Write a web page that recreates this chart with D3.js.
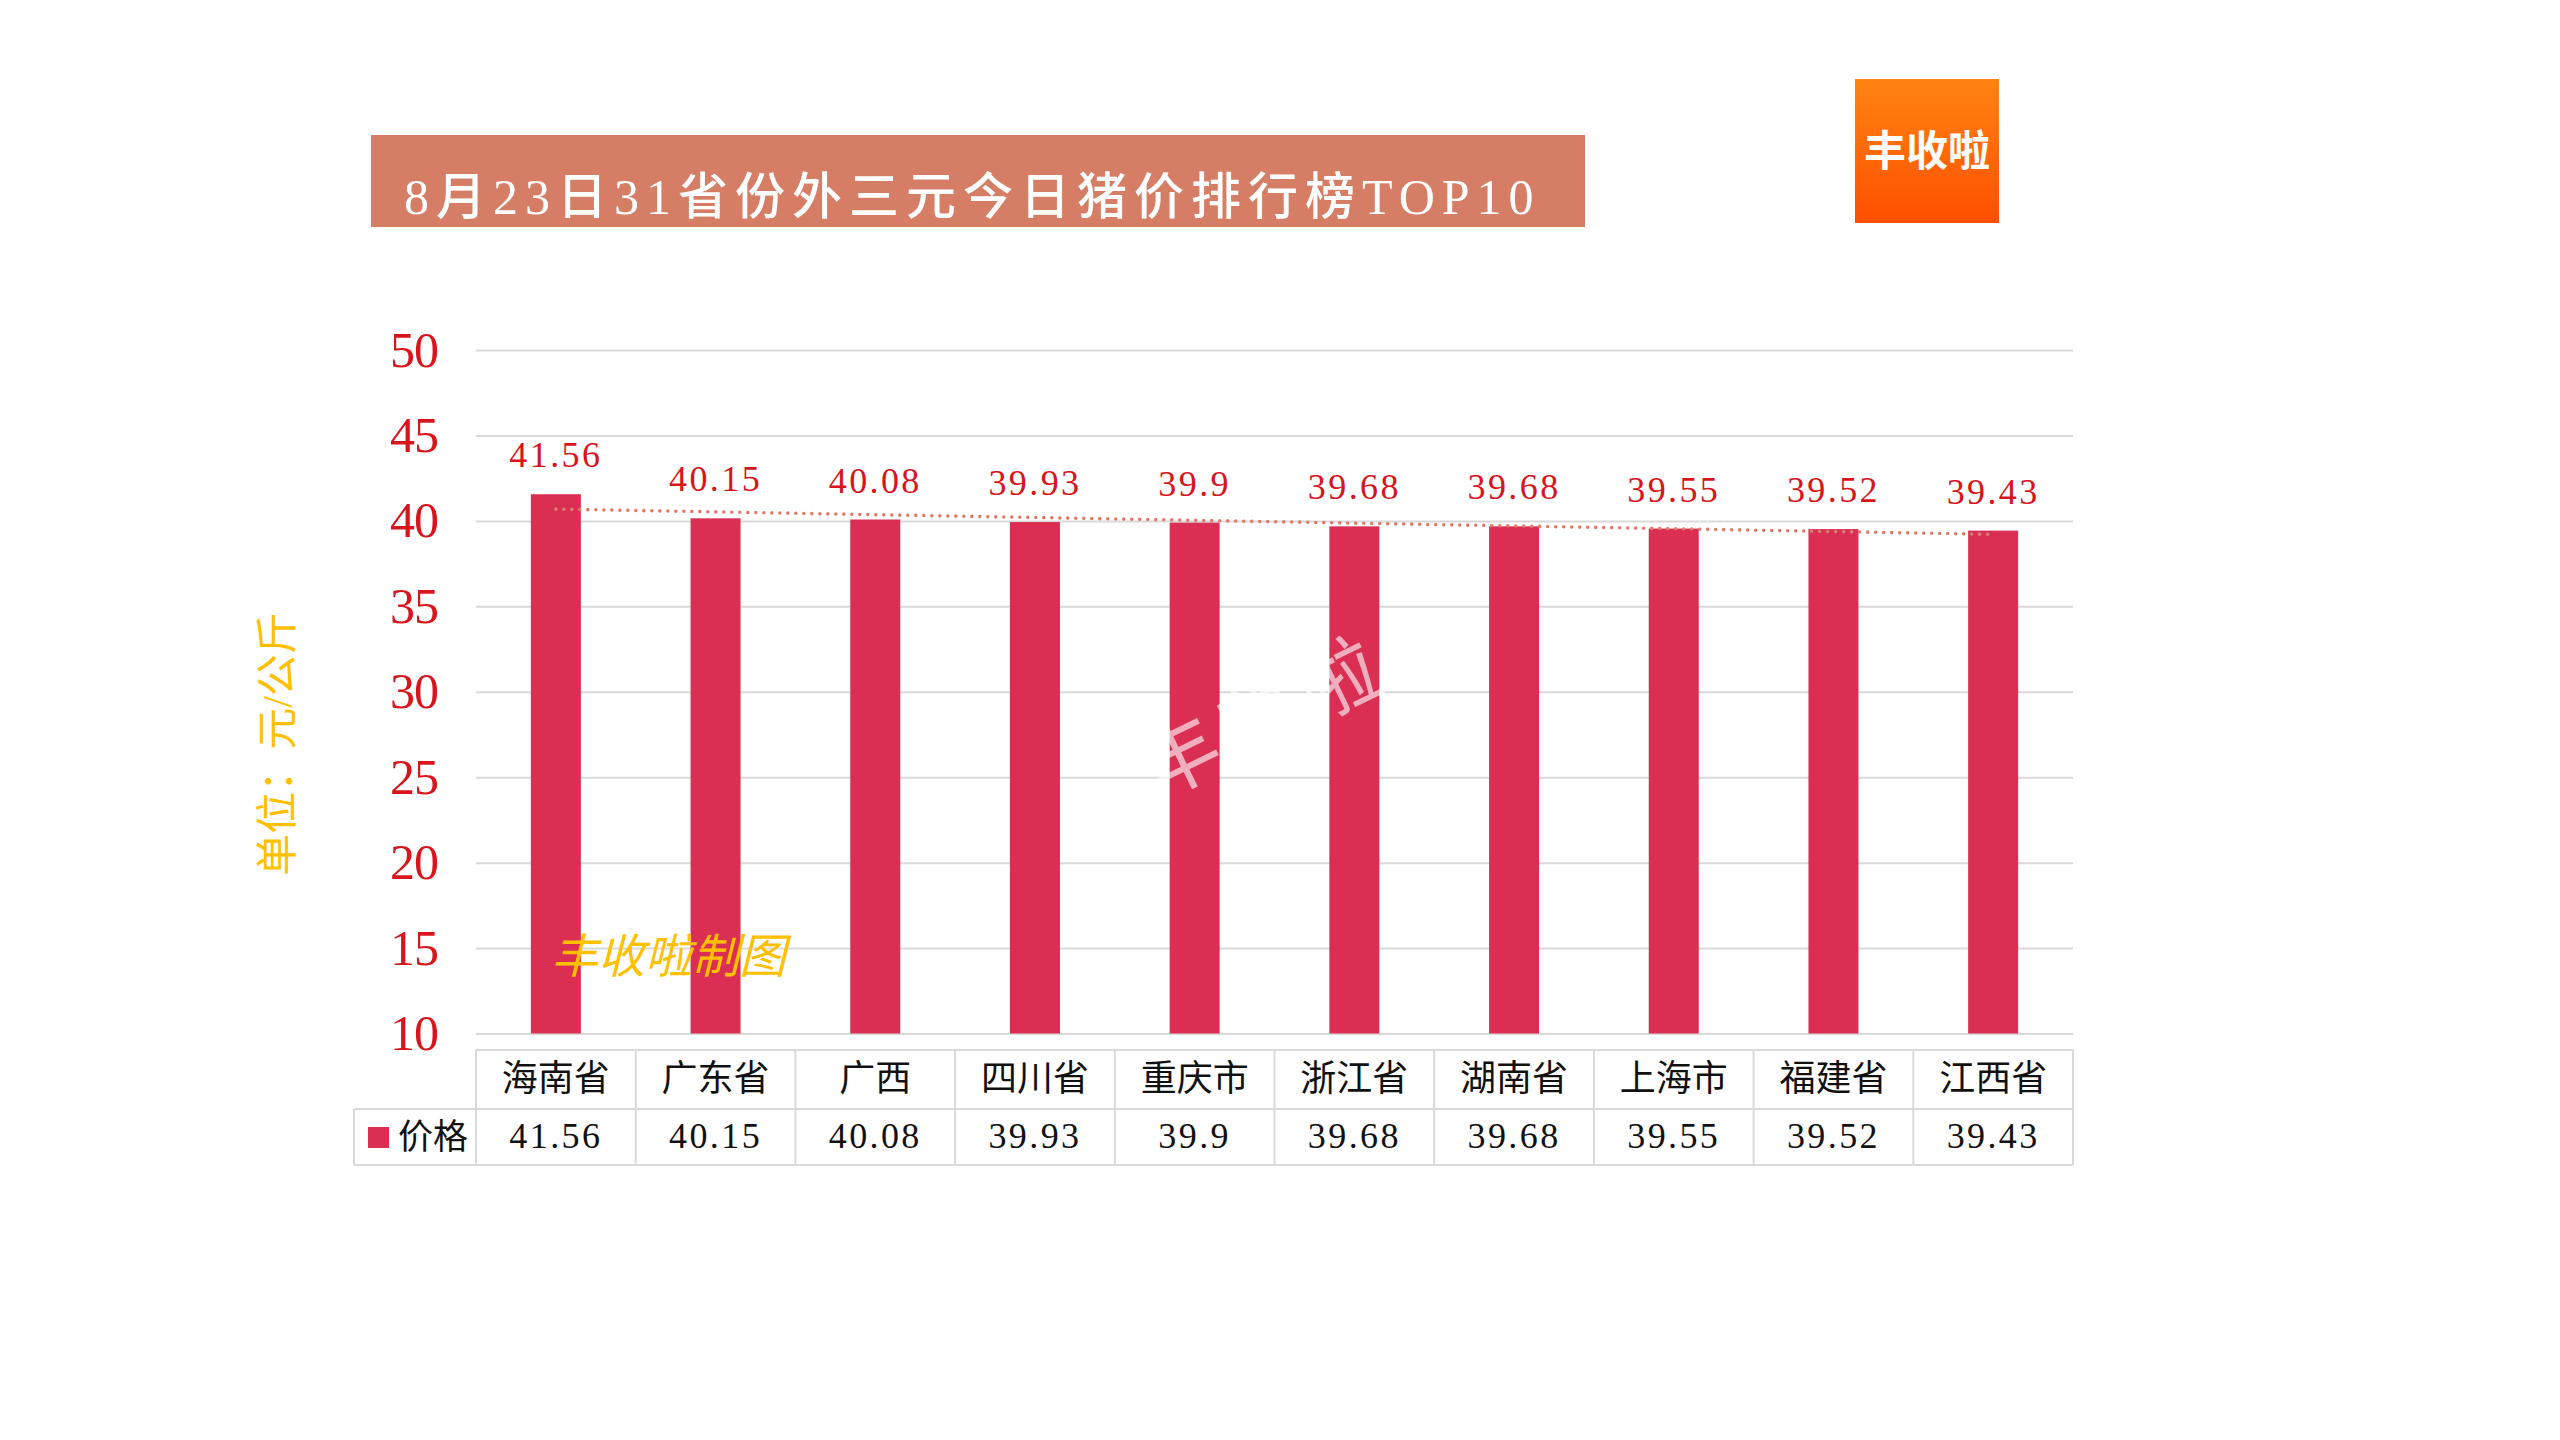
<!DOCTYPE html>
<html>
<head>
<meta charset="utf-8">
<script src="https://cdn.jsdelivr.net/npm/d3@7/dist/d3.min.js"></script>
<style>
html,body{margin:0;padding:0;background:#fff;}
svg{display:block;}
text{font-family:"Liberation Serif","Noto Sans CJK SC",serif;}
</style>
</head>
<body>
<div id="chart"></div>
<script>
const titleText = "8月23日31省份外三元今日猪价排行榜TOP10";
const categories = ["海南省","广东省","广西","四川省","重庆市","浙江省","湖南省","上海市","福建省","江西省"];
const prices = [41.56,40.15,40.08,39.93,39.9,39.68,39.68,39.55,39.52,39.43];
const priceLabels = ["41.56","40.15","40.08","39.93","39.9","39.68","39.68","39.55","39.52","39.43"];
const yTicks = [10,15,20,25,30,35,40,45,50];
const trendValues = [40.69,39.21];
const seriesName = "价格";
const yAxisTitle = "单位：元/公斤";
const creditText = "丰收啦制图";
const brandText = "丰收啦";

const W = 2560, H = 1440;
const plot = {l:476, r:2073, t:350, b:1033.5};
const tbl = {top:1050, mid:1109, bot:1165, legendL:354};
const lineColor = "#d9d9d9", barColor = "#da2f53", red = "#d8141c", gold = "#ffc000";

const svg = d3.select("#chart").append("svg").attr("width",W).attr("height",H).attr("viewBox",`0 0 ${W} ${H}`);
svg.append("rect").attr("width",W).attr("height",H).attr("fill","#fff");

const defs = svg.append("defs");
const grad = defs.append("linearGradient").attr("id","logoGrad").attr("x1",0).attr("y1",0).attr("x2",0).attr("y2",1);
grad.append("stop").attr("offset",0).attr("stop-color","#ff8412");
grad.append("stop").attr("offset",1).attr("stop-color","#ff4f00");

const x = d3.scaleBand().domain(categories).range([plot.l,plot.r]).paddingInner(0).paddingOuter(0);
const y = d3.scaleLinear().domain([10,50]).range([plot.b,plot.t]);
const barW = 50;
const cx = d => x(d)+x.bandwidth()/2;

// title band
svg.append("rect").attr("x",371).attr("y",135).attr("width",1214).attr("height",92).attr("fill","#d67d66");
svg.append("text").attr("x",404).attr("y",214).attr("fill","#fff").attr("font-size",50)
  .attr("letter-spacing",7).attr("font-weight",500).text(titleText);

// logo
svg.append("rect").attr("x",1855).attr("y",79).attr("width",144).attr("height",144).attr("fill","url(#logoGrad)");
svg.append("text").attr("x",1927).attr("y",166).attr("text-anchor","middle").attr("fill","#fff")
  .attr("font-size",42).attr("font-weight",700).style("font-family","'Noto Sans CJK SC'").text(brandText);

// y axis + gridlines
const yAxis = d3.axisLeft(y).tickValues(yTicks).tickSize(-(plot.r-plot.l)).tickPadding(38).tickFormat(d3.format("d"));
const gy = svg.append("g").attr("transform",`translate(${plot.l},0)`).call(yAxis);
gy.select(".domain").remove();
gy.selectAll(".tick line").attr("stroke",lineColor).attr("stroke-width",2);
gy.selectAll(".tick text").attr("fill",red).attr("font-size",50).attr("letter-spacing",-1)
  .style("font-family","'Liberation Serif'");

// axis title
svg.append("text").attr("transform","translate(292,744) rotate(-90)").attr("text-anchor","middle")
  .attr("fill",gold).attr("font-size",42).text(yAxisTitle);

// bars
svg.append("g").selectAll("rect").data(categories).join("rect")
  .attr("x",d=>cx(d)-barW/2).attr("width",barW)
  .attr("y",(d,i)=>y(prices[i])).attr("height",(d,i)=>y(10)-y(prices[i]))
  .attr("fill",barColor);

// watermark
svg.append("text").attr("transform","translate(1275,742) rotate(-26)").attr("text-anchor","middle")
  .attr("fill","#fff").attr("fill-opacity",0.62).attr("font-size",80).attr("letter-spacing",8)
  .style("font-family","'Noto Sans CJK SC'").text(brandText);

// trendline
const trendLine = d3.line().x(d=>d[0]).y(d=>y(d[1]));
svg.append("path")
  .datum([[cx(categories[0]),trendValues[0]],[cx(categories[categories.length-1]),trendValues[1]]])
  .attr("d",trendLine).attr("fill","none").attr("stroke","#da7c6e").attr("stroke-width",3.6)
  .attr("stroke-linecap","round").attr("stroke-dasharray","0 8");

// data labels
svg.append("g").selectAll("text").data(categories).join("text")
  .attr("x",cx).attr("y",(d,i)=>y(prices[i])-27).attr("text-anchor","middle")
  .attr("fill",red).attr("font-size",36).attr("letter-spacing",2.4)
  .text((d,i)=>priceLabels[i]);

// credit
svg.append("text").attr("x",551).attr("y",973).attr("fill",gold).attr("font-size",47)
  .attr("font-style","italic").text(creditText);

// data table
const tg = svg.append("g").attr("stroke",lineColor).attr("stroke-width",2);
const hLine = (x1,x2,yy)=>tg.append("line").attr("x1",x1).attr("x2",x2).attr("y1",yy).attr("y2",yy);
hLine(plot.l,plot.r,tbl.top); hLine(tbl.legendL,plot.r,tbl.mid); hLine(tbl.legendL,plot.r,tbl.bot);
const edges = categories.map(c=>x(c)).concat([plot.r]);
tg.selectAll("line.v").data(edges).join("line").attr("class","v")
  .attr("x1",d=>d).attr("x2",d=>d).attr("y1",tbl.top).attr("y2",tbl.bot);
tg.append("line").attr("x1",tbl.legendL).attr("x2",tbl.legendL).attr("y1",tbl.mid).attr("y2",tbl.bot);

svg.append("g").selectAll("text").data(categories).join("text")
  .attr("x",cx).attr("y",1091).attr("text-anchor","middle").attr("fill","#111").attr("font-size",36).text(d=>d);
svg.append("g").selectAll("text").data(categories).join("text")
  .attr("x",cx).attr("y",1148).attr("text-anchor","middle").attr("fill","#111").attr("font-size",36)
  .attr("letter-spacing",2.4).text((d,i)=>priceLabels[i]);

svg.append("rect").attr("x",368).attr("y",1127).attr("width",21).attr("height",21).attr("fill",barColor);
svg.append("text").attr("x",398).attr("y",1149).attr("fill","#111").attr("font-size",35).text(seriesName);
</script>
</body>
</html>
